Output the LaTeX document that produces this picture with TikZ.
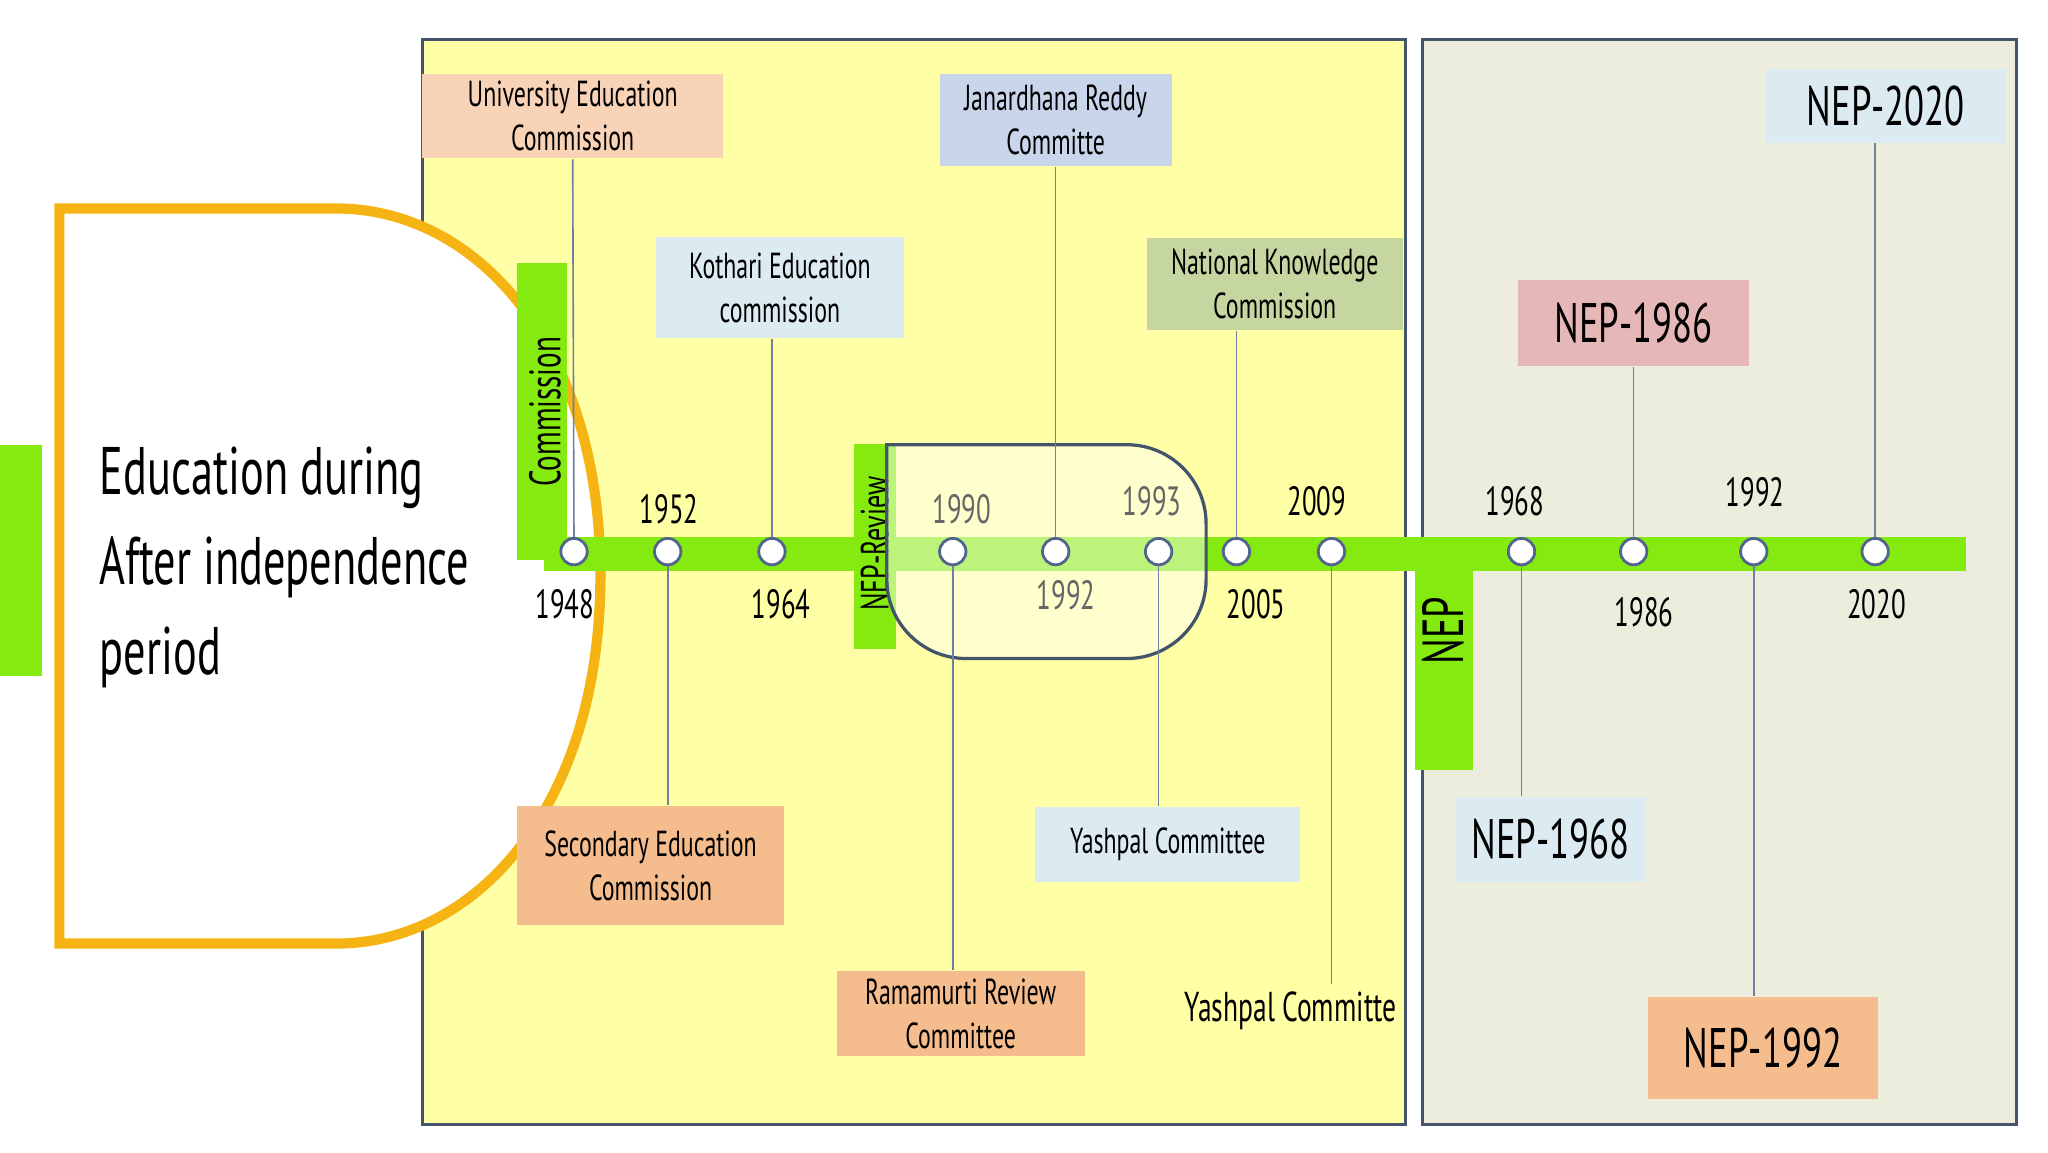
\documentclass[tikz,border=0pt]{standalone}
\usepackage{fontspec}
\setmainfont{PT Sans}[FakeStretch=0.66]
\begin{document}
\begin{tikzpicture}[x=0.1mm,y=-0.1mm,
 lab/.style={font=\fontsize{7.8}{9.5}\selectfont,align=center,inner sep=0pt},
 big/.style={font=\fontsize{12}{14}\selectfont},
 yr/.style={font=\fontsize{8.8}{10}\selectfont},
 dot/.style={circle,draw={rgb,255:red,80;green,100;blue,140},fill=white,line width=0.6pt,minimum size=2mm,inner sep=0pt},
 con/.style={draw={rgb,255:red,110;green,130;blue,160},line width=0.35pt}]
\definecolor{gr}{RGB}{132,234,16}
\definecolor{bd}{RGB}{68,84,106}
\useasboundingbox (0,0) rectangle (1552,873);
\fill[white] (0,0) rectangle (1552,873);
% panels
\draw[fill={rgb,255:red,255;green,255;blue,165},draw=bd,line width=0.7pt] (320,30) rectangle (1065,852);
\draw[fill={rgb,255:red,236;green,237;blue,220},draw=bd,line width=0.7pt] (1078,30) rectangle (1528,852);
% left D shape
\draw[fill=white,draw={rgb,255:red,245;green,180;blue,20},line width=2.2pt] (45,158) -- (255,158) .. controls (360,158) and (455,260) .. (455,436) .. controls (455,612) and (360,715) .. (255,715) -- (45,715) -- cycle;
\fill[gr] (0,337) rectangle (32,512);
\node[anchor=west,align=left,font=\fontsize{14.5}{19.5}\selectfont,inner sep=0pt] (title) at (75,430) {Education during\\After independence\\period};
% timeline
\fill[gr] (412,407) rectangle (1490,433);
\node[fill=gr,minimum width=3.8mm,minimum height=22.5mm,inner sep=0pt] (cb) at (411,312) {};
\node[rotate=90,font=\fontsize{9.5}{11}\selectfont] (ct) at (413,312) {Commission};
\node[fill=gr,minimum width=3.2mm,minimum height=15.5mm,inner sep=0pt] (nb) at (663,414) {};
\node[rotate=90,font=\fontsize{8.5}{10}\selectfont] (nt) at (663,412) {NEP-Review};
\node[fill=gr,minimum width=4.4mm,minimum height=15.1mm,inner sep=0pt] (nepb) at (1094,508) {};
\node[rotate=90,font=\fontsize{12.5}{14}\selectfont] (nept) at (1094,478) {NEP};
\draw[fill=white,fill opacity=0.45,draw=bd,line width=0.7pt,rounded corners=6mm] (672,337) -- (914,337) -- (914,499) -- (672,499) [sharp corners] -- cycle;
% dots
\foreach \n/\x in {a/435,b/506,c/585,d/722,e/800,f/878,g/937,h/1009,i/1153,j/1238,k/1329,l/1421}
  \node[dot] (\n) at (\x,418) {};
% years
\node[yr] at (428,458) {1948};
\node[yr] at (507,386) {1952};
\node[yr] at (592,458) {1964};
\node[yr,black!60] at (729,386) {1990};
\node[yr,black!60] at (808,451) {1992};
\node[yr,black!60] at (873,380) {1993};
\node[yr] at (998,380) {2009};
\node[yr] at (952,458) {2005};
\node[yr] at (1148,380) {1968};
\node[yr] at (1246,464) {1986};
\node[yr] at (1330,373) {1992};
\node[yr] at (1422,458) {2020};
% boxes
\node[lab,fill={rgb,255:red,248;green,211;blue,184},minimum width=22.8mm,minimum height=6.4mm] (ue) at (434,88) {University Education\\Commission};
\node[lab,fill={rgb,255:red,220;green,235;blue,242},minimum width=18.8mm,minimum height=7.7mm] (ke) at (591,218) {Kothari Education\\commission};
\node[lab,fill={rgb,255:red,200;green,213;blue,235},minimum width=17.6mm,minimum height=7mm] (jr) at (800,91) {Janardhana Reddy\\Committe};
\node[lab,fill={rgb,255:red,197;green,214;blue,160},minimum width=19.4mm,minimum height=7mm] (nk) at (966,215) {National Knowledge\\Commission};
\node[big,fill={rgb,255:red,220;green,235;blue,242},minimum width=18.2mm,minimum height=5.6mm,inner sep=0pt] (n20) at (1429,80) {NEP-2020};
\node[big,fill={rgb,255:red,230;green,183;blue,183},minimum width=17.5mm,minimum height=6.5mm,inner sep=0pt] (n86) at (1238,245) {NEP-1986};
\node[lab,fill={rgb,255:red,245;green,188;blue,142},minimum width=20.2mm,minimum height=9mm] (se) at (493,656) {Secondary Education\\Commission};
\node[lab,fill={rgb,255:red,220;green,235;blue,242},minimum width=20.1mm,minimum height=5.7mm] (yc) at (885,640) {Yashpal Committee};
\node[lab,fill={rgb,255:red,245;green,188;blue,142},minimum width=18.8mm,minimum height=6.5mm] (rr) at (728,768) {Ramamurti Review\\Committee};
\node[lab,font=\fontsize{9}{10}\selectfont,minimum height=4mm] (yc2) at (978,766) {Yashpal Committe};
\node[big,fill={rgb,255:red,220;green,235;blue,242},minimum width=14.3mm,minimum height=6.4mm,inner sep=0pt] (n68) at (1175,636) {NEP-1968};
\node[big,fill={rgb,255:red,245;green,188;blue,142},minimum width=17.5mm,minimum height=7.7mm,inner sep=0pt] (n92) at (1336,794) {NEP-1992};
% connectors
\draw[con] (ue.south) -- (a);
\draw[con] (ke.south -| c) -- (c);
\draw[con] (jr.south -| e) -- (e);
\draw[con] (nk.south -| g) -- (g);
\draw[con] (n20.south -| l) -- (l);
\draw[con] (n86.south -| j) -- (j);
\draw[con] (se.north -| b) -- (b);
\draw[con] (yc.north -| f) -- (f);
\draw[con] (rr.north -| d) -- (d);
\draw[con] (yc2.north -| h) -- (h);
\draw[con] (n68.north -| i) -- (i);
\draw[con] (n92.north -| k) -- (k);
\end{tikzpicture}
\end{document}
